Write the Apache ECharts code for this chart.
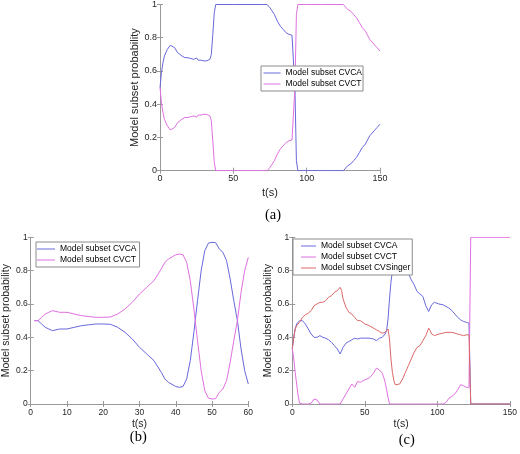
<!DOCTYPE html>
<html><head><meta charset="utf-8">
<script src="https://cdn.jsdelivr.net/npm/echarts@6/dist/echarts.min.js"></script>
<style>html,body{margin:0;padding:0;background:#fff}#c{width:520px;height:454px}</style>
</head><body><div id="c"></div>
<script>
// ---------- Data: panel (a) ----------
const tA = [0,1,2,3,5,7,8,10,12,15,17,19,21,23,24,25,26,28,30,32,33,34,35,36,37,38,50,60,70,73,75,78,80,82,84,86,88,90,91,92,93,94,100,110,120,125,126,128,130,132,134,136,138,140,143,146,148,150];
const cvcaA = [0.50,0.59,0.65,0.69,0.73,0.755,0.76,0.74,0.71,0.69,0.68,0.68,0.675,0.67,0.668,0.678,0.665,0.665,0.66,0.662,0.658,0.67,0.70,0.82,0.95,1.0,1.0,1.0,1.0,1.0,0.98,0.94,0.9,0.87,0.85,0.83,0.82,0.815,0.82,0.5,0.06,0,0,0,0,0,0.01,0.03,0.04,0.06,0.08,0.11,0.14,0.16,0.21,0.24,0.26,0.28];
const cvctA = [0.50,0.41,0.35,0.31,0.27,0.245,0.24,0.26,0.29,0.31,0.32,0.32,0.325,0.33,0.332,0.322,0.335,0.335,0.34,0.338,0.342,0.33,0.30,0.18,0.05,0,0,0,0,0,0.02,0.06,0.1,0.13,0.15,0.17,0.18,0.185,0.18,0.5,0.94,1,1,1,1,1,0.99,0.97,0.96,0.94,0.92,0.89,0.86,0.84,0.79,0.76,0.74,0.72];

// ---------- Data: panel (b) ----------
const tB = [1,2,3,4,5,6,8,10,12,14,16,18,20,22,24,26,28,30,32,34,36,37,38,40,41,42,43,44,45,46,47,48,49,50,51,52,53,54,55,56,57,58,59,60];
const cvcaB = [0.50,0.50,0.48,0.46,0.45,0.44,0.45,0.45,0.46,0.47,0.475,0.48,0.48,0.478,0.46,0.43,0.39,0.34,0.30,0.26,0.19,0.15,0.13,0.105,0.10,0.105,0.15,0.26,0.43,0.62,0.80,0.92,0.965,0.97,0.968,0.93,0.91,0.86,0.75,0.62,0.5,0.33,0.2,0.12];
const cvctB = [0.50,0.50,0.52,0.54,0.55,0.56,0.55,0.55,0.54,0.53,0.525,0.52,0.52,0.522,0.54,0.57,0.61,0.66,0.70,0.74,0.81,0.85,0.87,0.895,0.90,0.895,0.85,0.74,0.57,0.38,0.20,0.08,0.035,0.03,0.032,0.07,0.09,0.14,0.25,0.38,0.5,0.67,0.8,0.88];

// ---------- Data: panel (c) ----------
const tC = [0,1,2,3,4,5,7,9,11,13,15,16,17,19,21,23,25,27,29,31,33,34,35,37,39,41,43,45,47,50,53,56,58,60,62,63,64,65,66,67,68,69,70,71,72,74,76,78,80,82,84,86,88,90,92,94,95,96,98,101,104,106,108,110,112,114,116,118,120,121.8,123,150];
const cvcaC = [0.333,0.40,0.45,0.48,0.49,0.50,0.50,0.48,0.45,0.42,0.40,0.395,0.40,0.41,0.40,0.395,0.385,0.37,0.35,0.33,0.30,0.31,0.34,0.365,0.375,0.385,0.395,0.39,0.395,0.395,0.395,0.39,0.38,0.395,0.40,0.41,0.42,0.44,0.51,0.63,0.73,0.80,0.84,0.855,0.86,0.86,0.84,0.81,0.785,0.745,0.715,0.675,0.66,0.645,0.59,0.555,0.56,0.595,0.61,0.60,0.595,0.585,0.575,0.56,0.54,0.52,0.505,0.495,0.49,0.485,0,0];
const cvctC = [0.333,0.27,0.19,0.12,0.05,0.005,0,0,0,0.005,0.03,0.04,0.025,0,0,0,0,0,0,0,0,0.01,0.03,0.06,0.09,0.12,0.10,0.135,0.13,0.145,0.155,0.185,0.215,0.205,0.185,0.16,0.13,0.085,0.04,0,0,0,0,0,0,0,0,0,0,0,0,0,0,0,0,0,0,0,0,0,0,0.01,0.035,0.045,0.06,0.085,0.115,0.11,0.10,0.10,1,1];
const cvsingerC = [0.333,0.40,0.45,0.47,0.48,0.49,0.52,0.535,0.545,0.56,0.59,0.595,0.60,0.61,0.61,0.62,0.64,0.65,0.67,0.68,0.70,0.68,0.63,0.58,0.55,0.54,0.52,0.50,0.50,0.48,0.47,0.455,0.445,0.435,0.425,0.425,0.43,0.44,0.45,0.39,0.27,0.19,0.14,0.115,0.105,0.12,0.15,0.19,0.23,0.27,0.31,0.34,0.35,0.38,0.41,0.455,0.44,0.42,0.41,0.42,0.425,0.43,0.43,0.43,0.425,0.42,0.415,0.41,0.415,0.415,0,0];

// ---------- Tick labels ----------
const xTicksA = [0,50,100,150];
const xTicksB = [0,10,20,30,40,50,60];
const xTicksC = [0,50,100,150];
const yTicks = [0,0.2,0.4,0.6,0.8,1];

const nameCVCA = 'Model subset CVCA';
const nameCVCT = 'Model subset CVCT';
const nameCVS = 'Model subset CVSinger';

const colCVCA = '#6868dc';
const colCVCT = '#e070e0';
const colCVS = '#dc6868';
const axisCol = '#999999';
const textCol = '#262626';
const FONT = 'Liberation Sans';

const grids = [
  {left:160, top:3.3, width:220, height:167.4},
  {left:28.3, top:237.3, width:220, height:166.7},
  {left:292.3, top:237.3, width:220, height:166.7}
];
const xTickSets = [xTicksA, xTicksB, xTicksC];
const tickFs = [9, 8.5, 8.5];
const nameFs = [11, 10.5, 10.5];
const xNameGap = [17, 15, 14.5];
const yNameGap = [19, 18.3, 18.8];
const xLabMargin = [3, 4, 4];

const xAxes = [], yAxes = [];
grids.forEach((g, i) => {
  const xt = xTickSets[i];
  const common = {
    type:'value', gridIndex:i, min:xt[0], max:xt[xt.length-1], interval:xt[1]-xt[0],
    axisLine:{show:true, lineStyle:{color:axisCol, width:1}},
    axisTick:{show:true, inside:true, length:3, lineStyle:{color:axisCol}},
    splitLine:{show:false}
  };
  xAxes.push(Object.assign({}, common, {
    position:'bottom', name:'t(s)', nameLocation:'middle', nameGap:xNameGap[i],
    nameTextStyle:{fontFamily:FONT, fontSize:nameFs[i], color:textCol},
    axisLabel:{show:true, margin:xLabMargin[i], fontFamily:FONT, fontSize:tickFs[i], color:textCol}
  }));
  xAxes.push(Object.assign({}, common, {position:'top', axisLabel:{show:false}}));
  const ycommon = {
    type:'value', gridIndex:i, min:yTicks[0], max:yTicks[yTicks.length-1], interval:yTicks[1]-yTicks[0],
    axisLine:{show:true, lineStyle:{color:axisCol, width:1}},
    axisTick:{show:true, inside:true, length:3, lineStyle:{color:axisCol}},
    splitLine:{show:false}
  };
  yAxes.push(Object.assign({}, ycommon, {
    position:'left', name:'Model subset probability', nameLocation:'middle', nameGap:yNameGap[i],
    nameTextStyle:{fontFamily:FONT, fontSize:nameFs[i], color:textCol},
    axisLabel:{show:true, margin:3, fontFamily:FONT, fontSize:tickFs[i], color:textCol}
  }));
  yAxes.push(Object.assign({}, ycommon, {position:'right', axisLabel:{show:false}}));
});

function mk(name, ts, vals, color, gi) {
  return {
    type:'line', name:name, xAxisIndex:gi*2, yAxisIndex:gi*2,
    data: ts.map((t, k) => [t, vals[k]]),
    symbol:'none', showSymbol:false, smooth:false,
    color: color,
    lineStyle:{color:color, width:1},
    itemStyle:{color:color},
    animation:false
  };
}

const series = [
  mk(nameCVCA, tA, cvcaA, colCVCA, 0),
  mk(nameCVCT, tA, cvctA, colCVCT, 0),
  mk(nameCVCA, tB, cvcaB, colCVCA, 1),
  mk(nameCVCT, tB, cvctB, colCVCT, 1),
  mk(nameCVCA, tC, cvcaC, colCVCA, 2),
  mk(nameCVCT, tC, cvctC, colCVCT, 2),
  mk(nameCVS, tC, cvsingerC, colCVS, 2)
];

const legBase = {
  orient:'vertical', icon:'rect', itemHeight:1, itemGap:0,
  backgroundColor:'#ffffff', borderColor:'#8c8c8c', borderWidth:1, borderRadius:0,
  selectedMode:false,
  itemStyle:{borderWidth:0},
  textStyle:{fontFamily:FONT, fontSize:8.5, color:'#000', lineHeight:11}
};
const legends = [
  Object.assign({}, legBase, {data:[nameCVCA, nameCVCT], left:261, top:66, itemWidth:17, padding:[1.5,1,1.5,2.5]}),
  Object.assign({}, legBase, {data:[nameCVCA, nameCVCT], left:36, top:242, itemWidth:18, padding:[1.5,3,1.5,1]}),
  Object.assign({}, legBase, {data:[nameCVCA, nameCVCT, nameCVS], left:293, top:239, itemWidth:15, padding:[1.5,2,1.5,8]})
];

const captions = [
  {text:'(a)', x:273, y:215},
  {text:'(b)', x:138.3, y:437.5},
  {text:'(c)', x:406.7, y:440}
];

const chart = echarts.init(document.getElementById('c'), null, {renderer:'canvas'});
chart.setOption({
  animation:false,
  backgroundColor:'#ffffff',
  grid: grids.map(g => Object.assign({containLabel:false, show:false}, g)),
  xAxis: xAxes,
  yAxis: yAxes,
  legend: legends,
  series: series,
  graphic: captions.map(c => ({
    type:'text', x:c.x, y:c.y,
    style:{text:c.text, fontFamily:'Liberation Serif', fontSize:14.5, fill:'#000', textAlign:'center', textVerticalAlign:'middle'}
  }))
});
</script></body></html>
